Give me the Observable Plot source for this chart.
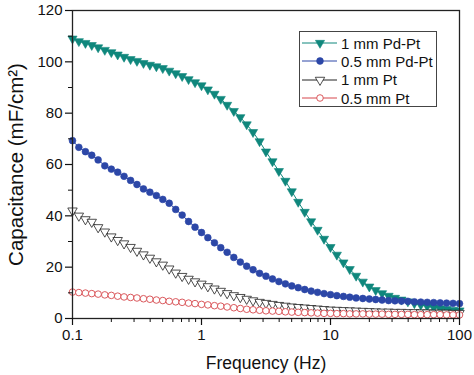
<!DOCTYPE html>
<html>
<head>
<meta charset="utf-8">
<script src="https://cdn.jsdelivr.net/npm/d3@7"></script>
<script src="https://cdn.jsdelivr.net/npm/@observablehq/plot@0.6"></script>
<style>
  body { margin: 0; background: #fff; }
  #wrap { position: relative; width: 474px; height: 375px; font-family: "Liberation Sans", Arial, sans-serif; }
  #legend { position: absolute; left: 299px; top: 31px; width: 138px; height: 76px; border: 1px solid #444; background: #fff; box-sizing: border-box; padding-top: 2px; }
  .row { display: flex; align-items: center; height: 18.3px; font-size: 15px; color: #111; white-space: nowrap; }
  .row svg { margin-left: 1px; margin-right: 3px; }
</style>
</head>
<body>
<div id="wrap"><div id="legend"></div></div>
<script>
const freq = [0.1,0.112,0.126,0.141,0.158,0.178,0.2,0.224,0.251,0.282,0.316,0.355,0.398,0.447,0.501,0.562,0.631,0.708,0.794,0.891,
  1,1.12,1.26,1.41,1.58,1.78,2,2.24,2.51,2.82,3.16,3.55,3.98,4.47,5.01,5.62,6.31,7.08,7.94,8.91,
  10,11.2,12.6,14.1,15.8,17.8,20,22.4,25.1,28.2,31.6,35.5,39.8,44.7,50.1,56.2,63.1,70.8,79.4,89.1,100];

const pdpt1mm = [109,108,107.3,106.5,105.6,104.6,103.7,102.8,101.9,101.0,100.3,99.5,98.8,98.2,97.5,96.5,95.5,94.4,93.2,92.0,
  90.8,89.2,87.5,85.5,83.2,80.8,78.4,75.6,72.6,69.0,65.0,61.2,57.4,53.6,49.5,45.4,41.5,37.8,34.5,31.0,
  27.8,24.8,21.8,19.2,16.6,14.3,12.4,11.0,9.8,8.8,8.0,7.3,6.6,5.9,5.3,4.8,4.3,3.9,3.6,3.3,3.1];

const pdpt05mm = [69.3,66.7,65.0,63.6,61.8,59.5,58.2,57.0,55.4,53.8,52.2,50.5,49.2,47.9,46.4,44.9,42.5,40.3,37.8,35.6,
  33.5,31.5,29.5,27.6,25.8,23.8,22.0,20.4,19.0,17.6,16.5,15.4,14.4,13.5,12.7,12.0,11.3,10.7,10.2,9.7,
  9.3,8.9,8.6,8.3,8.0,7.8,7.6,7.4,7.2,7.0,6.9,6.8,6.7,6.5,6.4,6.3,6.2,6.1,6.0,5.9,5.8];

const pt1mm = [42,40.0,38.6,37.6,35.5,33.8,31.9,30.5,29.2,27.8,26.3,24.9,23.6,22.2,20.9,19.4,17.8,16.5,15.4,14.4,
  13.5,12.5,11.6,10.7,9.8,9.0,8.3,7.6,7.0,6.4,6.0,5.6,5.2,4.9,4.6,4.4,4.2,4.0,3.8,3.6,
  3.4,3.3,3.2,3.1,3.0,2.9,2.8,2.7,2.6,2.6,2.5,2.5,2.4,2.4,2.3,2.3,2.2,2.2,2.2,2.1,2.1];

const pt05mm = [10.3,10.1,9.9,9.7,9.5,9.2,9.0,8.7,8.4,8.2,8.0,7.7,7.5,7.2,7.0,6.7,6.5,6.3,6.0,5.8,
  5.5,5.3,5.0,4.8,4.5,4.2,3.9,3.6,3.4,3.2,3.0,2.9,2.8,2.6,2.5,2.4,2.3,2.2,2.1,2.0,
  2.0,1.9,1.9,1.8,1.8,1.8,1.7,1.7,1.7,1.6,1.6,1.6,1.6,1.5,1.5,1.5,1.5,1.5,1.4,1.4,1.4];

const seriesNames = ["1 mm Pd-Pt", "0.5 mm Pd-Pt", "1 mm Pt", "0.5 mm Pt"];
const seriesValues = [pdpt1mm, pdpt05mm, pt1mm, pt05mm];

const xMajor = [0.1, 1, 10, 100];
const xMinor = [0.2,0.3,0.4,0.5,0.6,0.7,0.8,0.9,2,3,4,5,6,7,8,9,20,30,40,50,60,70,80,90];
const yMajor = [0, 20, 40, 60, 80, 100, 120];
const yMinor = [10, 30, 50, 70, 90, 110];

const triDown = {
  draw(ctx, size) {
    const s = Math.sqrt(size * 4 / Math.sqrt(3));
    const h = s * Math.sqrt(3) / 2;
    ctx.moveTo(-s / 2, -h / 3);
    ctx.lineTo(s / 2, -h / 3);
    ctx.lineTo(0, 2 * h / 3);
    ctx.closePath();
  }
};
const styles = [
  {color: "#0f877c", symbol: triDown, fill: "#0f877c", r: 3.4, sw: 0.6},
  {color: "#2c47a7", symbol: "circle", fill: "#2c47a7", r: 3.4, sw: 0.6},
  {color: "#222222", symbol: triDown, fill: "#ffffff", r: 3.5, sw: 0.8},
  {color: "#d6474c", symbol: "circle", fill: "#ffffff", r: 3.3, sw: 0.9}
];

const marks = [];
seriesNames.forEach((name, i) => {
  const rows = freq.map((f, j) => ({f, v: seriesValues[i][j]}));
  const st = styles[i];
  marks.push(Plot.line(rows, {x: "f", y: "v", stroke: st.color, strokeWidth: 1}));
  marks.push(Plot.dot(rows, {x: "f", y: "v", symbol: st.symbol, r: st.r, fill: st.fill, stroke: st.color, strokeWidth: st.sw}));
});

const chart = Plot.plot({
  width: 474,
  height: 375,
  marginLeft: 72,
  marginRight: 15,
  marginTop: 10,
  marginBottom: 57,
  style: {fontFamily: "'Liberation Sans', Arial, sans-serif", fontSize: "15px", color: "#111", background: "#fff"},
  x: {type: "log", domain: [0.1, 100]},
  y: {domain: [0, 120]},
  marks: [
    ...marks,
    Plot.frame({stroke: "#222", strokeWidth: 1.3}),
    Plot.axisX({ticks: xMajor, tickFormat: d => String(d), tickSize: 7, tickPadding: 4, label: null, fontSize: 15, strokeWidth: 1.2}),
    Plot.axisX({ticks: xMinor, tickFormat: null, text: null, tickSize: 4, label: null, strokeWidth: 1}),
    Plot.axisY({ticks: yMajor, tickFormat: d => String(d), tickSize: 7, tickPadding: 3, label: null, fontSize: 15, strokeWidth: 1.2}),
    Plot.axisY({ticks: yMinor, text: null, tickSize: 4, label: null, strokeWidth: 1}),
    Plot.text(["Frequency (Hz)"], {frameAnchor: "bottom", dy: 45, lineAnchor: "middle", fontSize: 17.5, textAnchor: "middle"}),
    Plot.text(["Capacitance (mF/cm²)"], {frameAnchor: "left", dx: -56, rotate: -90, lineAnchor: "middle", fontSize: 20.5, textAnchor: "middle"})
  ]
});
document.getElementById("wrap").prepend(chart);

const legend = d3.select("#legend");
seriesNames.forEach((name, i) => {
  const st = styles[i];
  const row = legend.append("div").attr("class", "row");
  const svg = row.append("svg").attr("width", 37).attr("height", 14);
  svg.append("line").attr("x1", 1).attr("x2", 36).attr("y1", 7).attr("y2", 7).attr("stroke", st.color).attr("stroke-width", 1);
  const sym = typeof st.symbol === "string" ? d3.symbolCircle : st.symbol;
  svg.append("path").attr("transform", "translate(19,7)")
    .attr("d", d3.symbol(sym, Math.PI * st.r * st.r)())
    .attr("fill", st.fill).attr("stroke", st.color).attr("stroke-width", st.sw);
  row.append("span").text(name);
});
</script>
</body>
</html>
